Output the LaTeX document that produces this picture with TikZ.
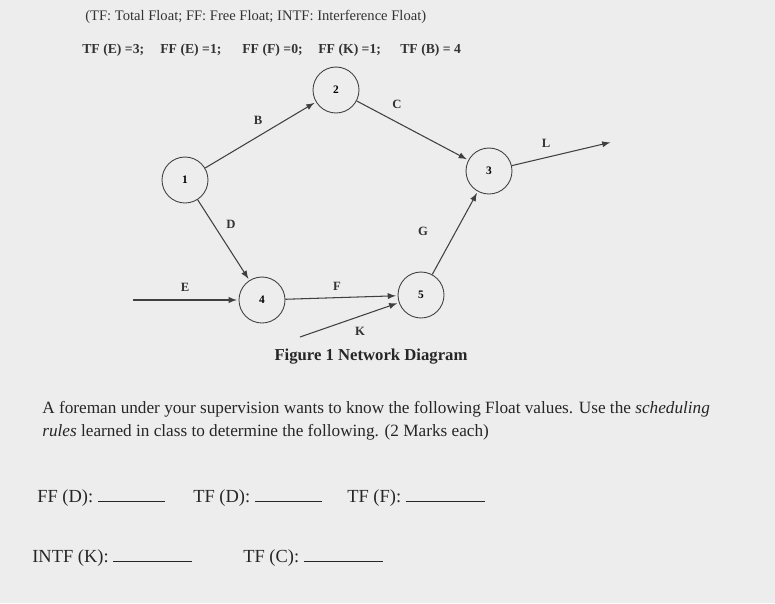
\documentclass[tikz,border=0pt]{standalone}
\usepackage{fontspec}
\setmainfont{Liberation Serif}
\usetikzlibrary{positioning}
\tikzset{
  event/.style={draw=black!75, circle, line width=0.5pt, minimum size=0.92cm, inner sep=0pt, font=\bfseries\fontsize{6.5}{7}\selectfont},
  act/.style={->, >=latex, draw=black!75, line width=0.6pt, shorten >=1pt},
  actlabel/.style={font=\bfseries\fontsize{7.2}{8}\selectfont, text=black!80},
  task/.style={anchor=west, font=\fontsize{9.8}{11}\selectfont, text=black!85, inner sep=0pt},
  answer/.style={anchor=base west, font=\fontsize{10.5}{12}\selectfont, text=black!85, inner sep=0pt}
}
\begin{document}
\begin{tikzpicture}[x=0.02cm, y=-0.02cm]
  %page
  \fill[black!7] (0,0) rectangle (775,603);
  \useasboundingbox (0,0) rectangle (775,603);
  %header
  \node[anchor=west, inner sep=0pt, font=\fontsize{8.3}{9}\selectfont, text=black!80] (legend) at (85,17)
    {(TF: Total Float; FF: Free Float; INTF: Interference Float)};
  \foreach \x/\val [count=\i] in {82/{TF (E) =3;}, 160/{FF (E) =1;}, 242/{FF (F) =0;}, 318/{FF (K) =1;}, 400/{TF (B) = 4}}
      \node[anchor=west, inner sep=0pt, font=\bfseries\fontsize{7.8}{8}\selectfont, text=black!80] (given\i) at (\x,50) {\val};
  %events
  \node[event] (n1) at (185,180) {1};
  \node[event] (n2) at (336,90) {2};
  \node[event] (n3) at (489,171) {3};
  \node[event] (n4) at (262,300) {4};
  \node[event] (n5) at (421,295) {5};
  \coordinate (eStart) at (133,300);
  \coordinate (kStart) at (300,337);
  \coordinate (lEnd) at (612,142);
  %activities
  \draw[act] (n1) -- (n2);
  \draw[act] (n2) -- (n3);
  \draw[act] (n3) -- (lEnd);
  \draw[act] (n1) -- (n4);
  \draw[act] (eStart) -- (n4);
  \draw[act] (n4) -- (n5);
  \draw[act] (kStart) -- (n5);
  \draw[act] (n5) -- (n3);
  %labels
  \node[actlabel] (labB) at (258,120) {B};
  \node[actlabel] (labC) at (397,104) {C};
  \node[actlabel] (labL) at (546,143) {L};
  \node[actlabel] (labD) at (231,224) {D};
  \node[actlabel] (labG) at (423,231) {G};
  \node[actlabel] (labE) at (185,287) {E};
  \node[actlabel] (labF) at (337,286) {F};
  \node[actlabel] (labK) at (360,331) {K};
  \node[font=\bfseries\fontsize{9.5}{11}\selectfont, text=black!85] (caption) at (371,357) {Figure 1 Network Diagram};
  %question
  \node[task] (task1) at (42,409) {A foreman under your supervision wants to know the following Float values. Use the \textit{scheduling}};
  \node[task] (task2) at (42,432) {\textit{rules} learned in class to determine the following. (2 Marks each)};
  %answers
  \node[answer] (ffD) at (37,502) {FF (D): \rule{38pt}{0.5pt}};
  \node[answer] (tfD) at (193,502) {TF (D): \rule{38pt}{0.5pt}};
  \node[answer] (tfF) at (347,502) {TF (F): \rule{45pt}{0.5pt}};
  \node[answer] (intfK) at (32,562) {INTF (K): \rule{45pt}{0.5pt}};
  \node[answer] (tfC) at (243,562) {TF (C): \rule{45pt}{0.5pt}};
\end{tikzpicture}
\end{document}
